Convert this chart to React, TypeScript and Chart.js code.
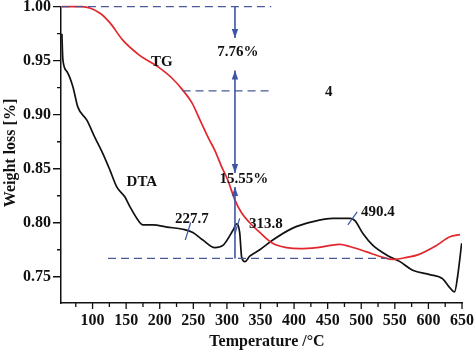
import React, { useEffect, useRef } from 'react';
import { Chart, registerables } from 'chart.js';
Chart.register(...registerables);

const SERIF = '"Liberation Serif", "Times New Roman", serif';

// TG curve (temperature °C, weight fraction)
const tgTemp = [54.3, 84, 111, 126, 145, 170, 196, 218, 234, 248, 260, 272, 282, 292, 301, 312, 322, 334, 349, 368, 389, 409, 434, 468, 483, 508, 532, 547, 568, 583, 612, 632, 647];
const tgWeight = [1.0, 1.0, 0.994, 0.985, 0.969, 0.955, 0.945, 0.934, 0.923, 0.911, 0.895, 0.879, 0.867, 0.852, 0.84, 0.821, 0.809, 0.8, 0.791, 0.781, 0.777, 0.776, 0.777, 0.78, 0.778, 0.773, 0.768, 0.766, 0.768, 0.77, 0.779, 0.787, 0.789];

// DTA curve (plotted on the same axis)
const dtaTemp = [54.3, 55.8, 61.8, 70.7, 78.1, 91.5, 103.4, 115.3, 125.7, 136.2, 148, 155.5, 166, 175, 189.7, 210.6, 234.4, 249.3, 264.2, 282, 294, 309, 314.7, 319, 322, 326.8, 334, 349, 368.3, 398, 428, 457.7, 483, 490.6, 502.5, 517.4, 538.2, 557.6, 576.6, 602, 621.3, 631.7, 639, 643.4, 649.5];
const dtaValue = [0.975, 0.951, 0.94, 0.926, 0.907, 0.895, 0.879, 0.864, 0.849, 0.833, 0.824, 0.815, 0.804, 0.798, 0.798, 0.796, 0.794, 0.791, 0.784, 0.777, 0.779, 0.793, 0.799, 0.791, 0.768, 0.764, 0.769, 0.775, 0.784, 0.795, 0.801, 0.804, 0.804, 0.802, 0.79, 0.779, 0.77, 0.764, 0.756, 0.752, 0.748, 0.74, 0.736, 0.75, 0.781];

// Dashed guide lines: [startT, endT, level]
const guideStart = [54.3, 234, 123];
const guideEnd = [366, 366, 538];
const guideLevel = [1.0, 0.922, 0.767];

// Vertical arrows at T = arrowT : [from, to, headAtFrom, headAtTo]
const arrowT = 312;
const arrowFrom = [1.0, 0.941, 0.767];
const arrowTo = [0.971, 0.846, 0.833];
const arrowHeadFrom = [false, true, false];
const arrowHeadTo = [true, true, true];

// Slash markers at peaks
const slashT0 = [238, 312, 480];
const slashV0 = [0.784, 0.79, 0.798];
const slashT1 = [246, 319, 494];
const slashV1 = [0.8, 0.804, 0.81];

// Text annotations
const noteText = ['TG', 'DTA', '4', '7.76%', '15.55%', '227.7', '313.8', '490.4'];
const noteT = [203, 173.4, 451.8, 316.2, 325.2, 247.8, 358, 524.6];
const noteV = [0.9488, 0.8377, 0.921, 0.958, 0.8403, 0.8034, 0.7988, 0.81];

const xMin = 53;
const xMax = 650;
const yMin = 0.7257;
const yMax = 1.0;

const decor = {
  id: 'decor',
  afterDatasetsDraw(chart: any) {
    const ctx = chart.ctx;
    const xs = chart.scales.x;
    const ys = chart.scales.y;
    const px = (v: number) => xs.getPixelForValue(v);
    const py = (v: number) => ys.getPixelForValue(v);
    const area = chart.chartArea;
    ctx.save();

    // axis ticks
    ctx.strokeStyle = '#111';
    ctx.lineWidth = 1.3;
    ctx.beginPath();
    xs.ticks.forEach((t: any) => {
      const x = px(t.value);
      ctx.moveTo(x, area.bottom);
      ctx.lineTo(x, area.bottom + 6);
      const m = t.value - 25;
      if (m >= xs.min) {
        const xm = px(m);
        ctx.moveTo(xm, area.bottom);
        ctx.lineTo(xm, area.bottom + 4);
      }
    });
    ys.ticks.forEach((t: any) => {
      const y = py(t.value);
      ctx.moveTo(area.left, y);
      ctx.lineTo(area.left - 8, y);
      const m = t.value - 0.025;
      if (m >= ys.min) {
        const ym = py(m);
        ctx.moveTo(area.left, ym);
        ctx.lineTo(area.left - 4, ym);
      }
    });
    ctx.stroke();

    // arrows
    const blue = '#3d55a5';
    ctx.strokeStyle = blue;
    ctx.fillStyle = blue;
    ctx.lineWidth = 1.6;
    const x = px(arrowT);
    const head = (yTip: number, dir: number) => {
      ctx.beginPath();
      ctx.moveTo(x, yTip);
      ctx.lineTo(x - 3.2, yTip - dir * 9);
      ctx.lineTo(x + 3.2, yTip - dir * 9);
      ctx.closePath();
      ctx.fill();
    };
    arrowFrom.forEach((f, i) => {
      const y0 = py(f);
      const y1 = py(arrowTo[i]);
      ctx.beginPath();
      ctx.moveTo(x, y0);
      ctx.lineTo(x, y1);
      ctx.stroke();
      const dir = y1 > y0 ? 1 : -1;
      if (arrowHeadTo[i]) head(y1, dir);
      if (arrowHeadFrom[i]) head(y0, -dir);
    });

    // slashes
    ctx.lineWidth = 1.2;
    ctx.beginPath();
    slashT0.forEach((t, i) => {
      ctx.moveTo(px(t), py(slashV0[i]));
      ctx.lineTo(px(slashT1[i]), py(slashV1[i]));
    });
    ctx.stroke();

    // notes
    ctx.fillStyle = '#111';
    ctx.font = `bold 15px ${SERIF}`;
    ctx.textAlign = 'center';
    ctx.textBaseline = 'middle';
    noteText.forEach((s, i) => {
      ctx.fillText(s, px(noteT[i]), py(noteV[i]));
    });

    // axis titles
    ctx.font = `bold 16px ${SERIF}`;
    ctx.fillText('Temperature /°C', 267, 342);
    ctx.save();
    ctx.translate(11, 153);
    ctx.rotate(-Math.PI / 2);
    ctx.fillText('Weight loss [%]', 0, 0);
    ctx.restore();

    ctx.restore();
  },
};

export default function App() {
  const ref = useRef<HTMLCanvasElement | null>(null);
  useEffect(() => {
    if (!ref.current) return;
    const guideSets = guideStart.map((s, i) => ({
      label: 'guide' + i,
      data: [
        { x: s, y: guideLevel[i] },
        { x: guideEnd[i], y: guideLevel[i] },
      ],
      borderColor: '#4a5a96',
      borderWidth: 1.3,
      borderDash: [8, 5],
      pointRadius: 0,
      showLine: true,
      fill: false,
      clip: false,
    }));
    const chart = new Chart(ref.current, {
      type: 'scatter',
      data: {
        datasets: [
          ...guideSets,
          {
            label: 'TG',
            data: tgTemp.map((t, i) => ({ x: t, y: tgWeight[i] })),
            borderColor: '#e3262c',
            borderWidth: 1.7,
            pointRadius: 0,
            showLine: true,
            clip: false,
            cubicInterpolationMode: 'monotone',
          },
          {
            label: 'DTA',
            data: dtaTemp.map((t, i) => ({ x: t, y: dtaValue[i] })),
            borderColor: '#111',
            borderWidth: 1.7,
            pointRadius: 0,
            showLine: true,
            cubicInterpolationMode: 'monotone',
          },
        ] as any,
      },
      options: {
        animation: false,
        responsive: false,
        devicePixelRatio: 1,
        layout: { padding: { top: 6.7, right: 12, left: 0, bottom: 0 } },
        plugins: { legend: { display: false }, tooltip: { enabled: false } },
        scales: {
          x: {
            type: 'linear',
            min: xMin,
            max: xMax,
            grid: { display: false, drawTicks: false },
            border: { display: true, color: '#111', width: 1.5 },
            ticks: {
              stepSize: 50,
              includeBounds: false,
              autoSkip: false,
              maxRotation: 0,
              padding: 8,
              color: '#111',
              font: { family: SERIF, size: 16, weight: 'bold' },
            },
            afterFit(scale: any) {
              scale.height = 50;
              scale.paddingLeft = 0;
              scale.paddingRight = 0;
            },
          },
          y: {
            type: 'linear',
            min: yMin,
            max: yMax,
            grid: { display: false, drawTicks: false },
            border: { display: true, color: '#111', width: 1.5 },
            ticks: {
              stepSize: 0.05,
              includeBounds: false,
              autoSkip: false,
              padding: 10,
              color: '#111',
              font: { family: SERIF, size: 16, weight: 'bold' },
              callback: (v: any) => Number(v).toFixed(2),
            },
            afterFit(scale: any) {
              scale.width = 61;
              scale.paddingTop = 0;
              scale.paddingBottom = 0;
            },
          },
        },
      } as any,
      plugins: [decor],
    });
    return () => chart.destroy();
  }, []);
  return (
    <div style={{ position: 'absolute', left: 0, top: 0, width: 474, height: 353, background: '#fff' }}>
      <canvas ref={ref} width={474} height={353} />
    </div>
  );
}
